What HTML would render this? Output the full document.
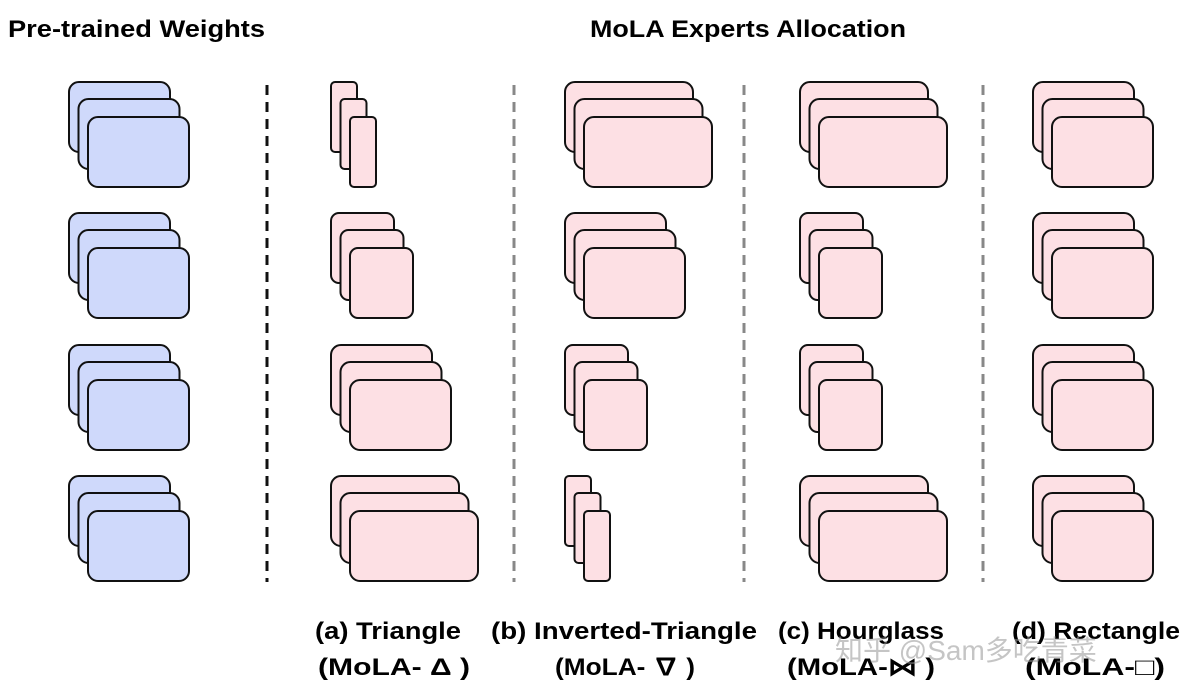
<!DOCTYPE html>
<html><head><meta charset="utf-8"><style>
html,body{margin:0;padding:0;background:#fff;}
svg{display:block;}
text{font-family:"Liberation Sans","Noto Sans CJK SC",sans-serif;font-weight:bold;fill:#000;}
</style></head><body>
<svg width="1195" height="695" viewBox="0 0 1195 695">
<defs>
<g id="s26"><rect x="0" y="0" width="26" height="70" rx="4"/><rect x="9.5" y="17" width="26" height="70" rx="4"/><rect x="19" y="35" width="26" height="70" rx="4"/></g>
<g id="s63"><rect x="0" y="0" width="63" height="70" rx="8"/><rect x="9.5" y="17" width="63" height="70" rx="8"/><rect x="19" y="35" width="63" height="70" rx="8"/></g>
<g id="s101"><rect x="0" y="0" width="101" height="70" rx="10"/><rect x="9.5" y="17" width="101" height="70" rx="10"/><rect x="19" y="35" width="101" height="70" rx="10"/></g>
<g id="s128"><rect x="0" y="0" width="128" height="70" rx="10"/><rect x="9.5" y="17" width="128" height="70" rx="10"/><rect x="19" y="35" width="128" height="70" rx="10"/></g>
</defs>

<text x="8" y="37" font-size="24" textLength="257" lengthAdjust="spacingAndGlyphs">Pre-trained Weights</text>
<text x="590" y="37" font-size="24" textLength="316" lengthAdjust="spacingAndGlyphs">MoLA Experts Allocation</text>

<g fill="#cfd9fb" stroke="#111" stroke-width="2">
<use href="#s101" x="69" y="82"/><use href="#s101" x="69" y="213"/><use href="#s101" x="69" y="345"/><use href="#s101" x="69" y="476"/>
</g>
<g fill="#fde0e4" stroke="#111" stroke-width="2">
<use href="#s26" x="331" y="82"/><use href="#s63" x="331" y="213"/><use href="#s101" x="331" y="345"/><use href="#s128" x="331" y="476"/>
<use href="#s128" x="565" y="82"/><use href="#s101" x="565" y="213"/><use href="#s63" x="565" y="345"/><use href="#s26" x="565" y="476"/>
<use href="#s128" x="800" y="82"/><use href="#s63" x="800" y="213"/><use href="#s63" x="800" y="345"/><use href="#s128" x="800" y="476"/>
<use href="#s101" x="1033" y="82"/><use href="#s101" x="1033" y="213"/><use href="#s101" x="1033" y="345"/><use href="#s101" x="1033" y="476"/>
</g>

<line x1="267" y1="85" x2="267" y2="582" stroke="#111" stroke-width="3" stroke-dasharray="10,7"/>
<line x1="514" y1="85" x2="514" y2="582" stroke="#888" stroke-width="3" stroke-dasharray="10,7"/>
<line x1="744" y1="85" x2="744" y2="582" stroke="#888" stroke-width="3" stroke-dasharray="10,7"/>
<line x1="983" y1="85" x2="983" y2="582" stroke="#888" stroke-width="3" stroke-dasharray="10,7"/>

<g font-size="24">
<text x="315" y="639" textLength="146" lengthAdjust="spacingAndGlyphs">(a) Triangle</text>
<text x="491" y="639" textLength="266" lengthAdjust="spacingAndGlyphs">(b) Inverted-Triangle</text>
<text x="778" y="639" textLength="166" lengthAdjust="spacingAndGlyphs">(c) Hourglass</text>
<text x="1012" y="639" textLength="168" lengthAdjust="spacingAndGlyphs">(d) Rectangle</text>
<text x="318" y="675" textLength="152" lengthAdjust="spacingAndGlyphs">(MoLA- Δ )</text>
<text x="555" y="675" textLength="140" lengthAdjust="spacingAndGlyphs">(MoLA- ∇ )</text>
<text x="787" y="675" textLength="148" lengthAdjust="spacingAndGlyphs">(MoLA-⋈ )</text>
<text x="1025" y="675" textLength="140" lengthAdjust="spacingAndGlyphs">(MoLA-□)</text>
</g>
<text x="835" y="660" font-size="28" style="font-weight:normal;fill:rgba(150,150,150,0.55)">知乎 @Sam多吃青菜</text>
</svg>
</body></html>
